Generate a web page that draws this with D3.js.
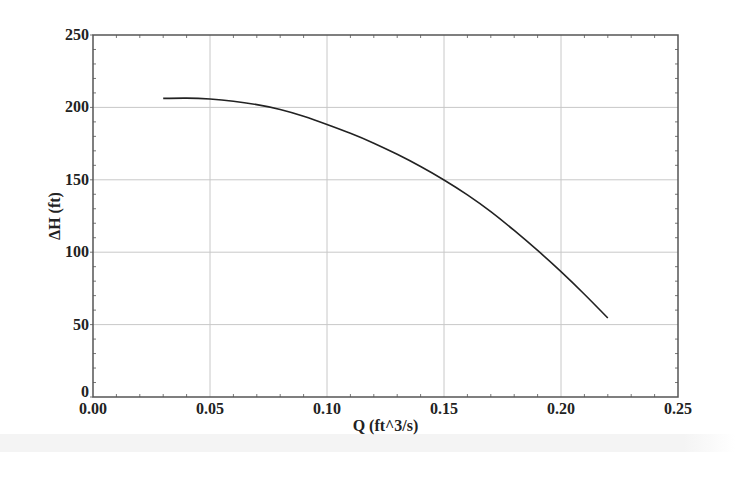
<!DOCTYPE html>
<html>
<head>
<meta charset="utf-8">
<script src="https://cdn.jsdelivr.net/npm/d3@7"></script>
<style>
  body { margin: 0; background: #fff; }
  svg { display: block; }
  .tick-lbl { font-family: "Liberation Serif", "Times New Roman", serif; font-weight: bold; font-size: 16px; fill: #222; }
</style>
</head>
<body>
<div id="graf"></div>
<script>
const ancho = 750
const alto = 483

// datos
const caudal = [0.03, 0.04, 0.05, 0.06, 0.07, 0.08, 0.09, 0.10, 0.11, 0.12,
  0.13, 0.14, 0.15, 0.16, 0.17, 0.18, 0.19, 0.20, 0.21, 0.22]
const carga = [206.2, 206.4, 205.8, 204.3, 201.9, 198.6, 193.9, 188.2, 182.1, 175.3,
  167.6, 159.2, 149.9, 139.6, 128.0, 115.0, 101.2, 86.6, 71.0, 54.6]
const xTicks = [0, 0.05, 0.1, 0.15, 0.2, 0.25]
const yTicks = [0, 50, 100, 150, 200, 250]

const margen = { top: 35, right: 72, bottom: 86, left: 93 }

const svg = d3.select("#graf")
  .append("svg")
  .attr("width", ancho)
  .attr("height", alto)

// franja gris de abajo
const grad = svg.append("defs").append("linearGradient")
  .attr("id", "franja")
  .attr("x1", 0).attr("x2", 1).attr("y1", 0).attr("y2", 0)
grad.append("stop").attr("offset", "0%").attr("stop-color", "#f4f4f4")
grad.append("stop").attr("offset", "93%").attr("stop-color", "#f4f4f4")
grad.append("stop").attr("offset", "100%").attr("stop-color", "#fff")
svg.append("rect")
  .attr("x", 0).attr("y", 434)
  .attr("width", 735).attr("height", 18)
  .attr("fill", "url(#franja)")

const x = d3.scaleLinear().domain([0, 0.25]).range([margen.left, ancho - margen.right])
const y = d3.scaleLinear().domain([0, 250]).range([alto - margen.bottom, margen.top])

const x0 = x.range()[0], x1 = x.range()[1]
const y0 = y.range()[0], y1 = y.range()[1]

// rejilla
svg.append("g")
  .selectAll("line")
  .data(xTicks.slice(1, -1))
  .join("line")
  .attr("x1", (d) => x(d)).attr("x2", (d) => x(d))
  .attr("y1", y1).attr("y2", y0)
  .attr("stroke", "#c8c8c8").attr("stroke-width", 1)

svg.append("g")
  .selectAll("line")
  .data(yTicks.slice(1, -1))
  .join("line")
  .attr("x1", x0).attr("x2", x1)
  .attr("y1", (d) => y(d)).attr("y2", (d) => y(d))
  .attr("stroke", "#c8c8c8").attr("stroke-width", 1)

// marcas menores
const xMenores = d3.range(0, 26).map((i) => i / 100).filter((d, i) => i % 5 !== 0)
const yMenores = d3.range(0, 251, 10).filter((d) => d % 50 !== 0)

const marcas = svg.append("g").attr("stroke", "#777").attr("stroke-width", 1)
xMenores.forEach((d) => {
  marcas.append("line").attr("x1", x(d)).attr("x2", x(d)).attr("y1", y0).attr("y2", y0 - 3)
  marcas.append("line").attr("x1", x(d)).attr("x2", x(d)).attr("y1", y1).attr("y2", y1 + 3)
})
yMenores.forEach((d) => {
  marcas.append("line").attr("x1", x0).attr("x2", x0 + 3).attr("y1", y(d)).attr("y2", y(d))
  marcas.append("line").attr("x1", x1).attr("x2", x1 - 3).attr("y1", y(d)).attr("y2", y(d))
})
yTicks.forEach((d) => {
  marcas.append("line").attr("x1", x0 - 3).attr("x2", x0).attr("y1", y(d)).attr("y2", y(d))
})

// marco
svg.append("rect")
  .attr("x", x0).attr("y", y1)
  .attr("width", x1 - x0).attr("height", y0 - y1)
  .attr("fill", "none")
  .attr("stroke", "#555")
  .attr("stroke-width", 1.5)

// curva
const linea = d3.line()
  .x((d, i) => x(caudal[i]))
  .y((d) => y(d))
  .curve(d3.curveNatural)

svg.append("path")
  .datum(carga)
  .attr("d", linea)
  .attr("fill", "none")
  .attr("stroke", "#222")
  .attr("stroke-width", 1.6)

// etiquetas
svg.append("g")
  .selectAll("text")
  .data(xTicks)
  .join("text")
  .attr("class", "tick-lbl")
  .attr("x", (d) => x(d))
  .attr("y", 414)
  .attr("text-anchor", "middle")
  .text((d) => d.toFixed(2))

svg.append("g")
  .selectAll("text")
  .data(yTicks)
  .join("text")
  .attr("class", "tick-lbl")
  .attr("x", x0 - 4)
  .attr("y", (d) => y(d) + (d === 0 ? 0 : 5))
  .attr("text-anchor", "end")
  .text((d) => d)

svg.append("text")
  .attr("class", "tick-lbl")
  .attr("x", (x0 + x1) / 2)
  .attr("y", 431)
  .attr("text-anchor", "middle")
  .text("Q (ft^3/s)")

svg.append("text")
  .attr("class", "tick-lbl")
  .attr("transform", `translate(60, ${(y0 + y1) / 2}) rotate(-90)`)
  .attr("text-anchor", "middle")
  .text("ΔH (ft)")
</script>
</body>
</html>
